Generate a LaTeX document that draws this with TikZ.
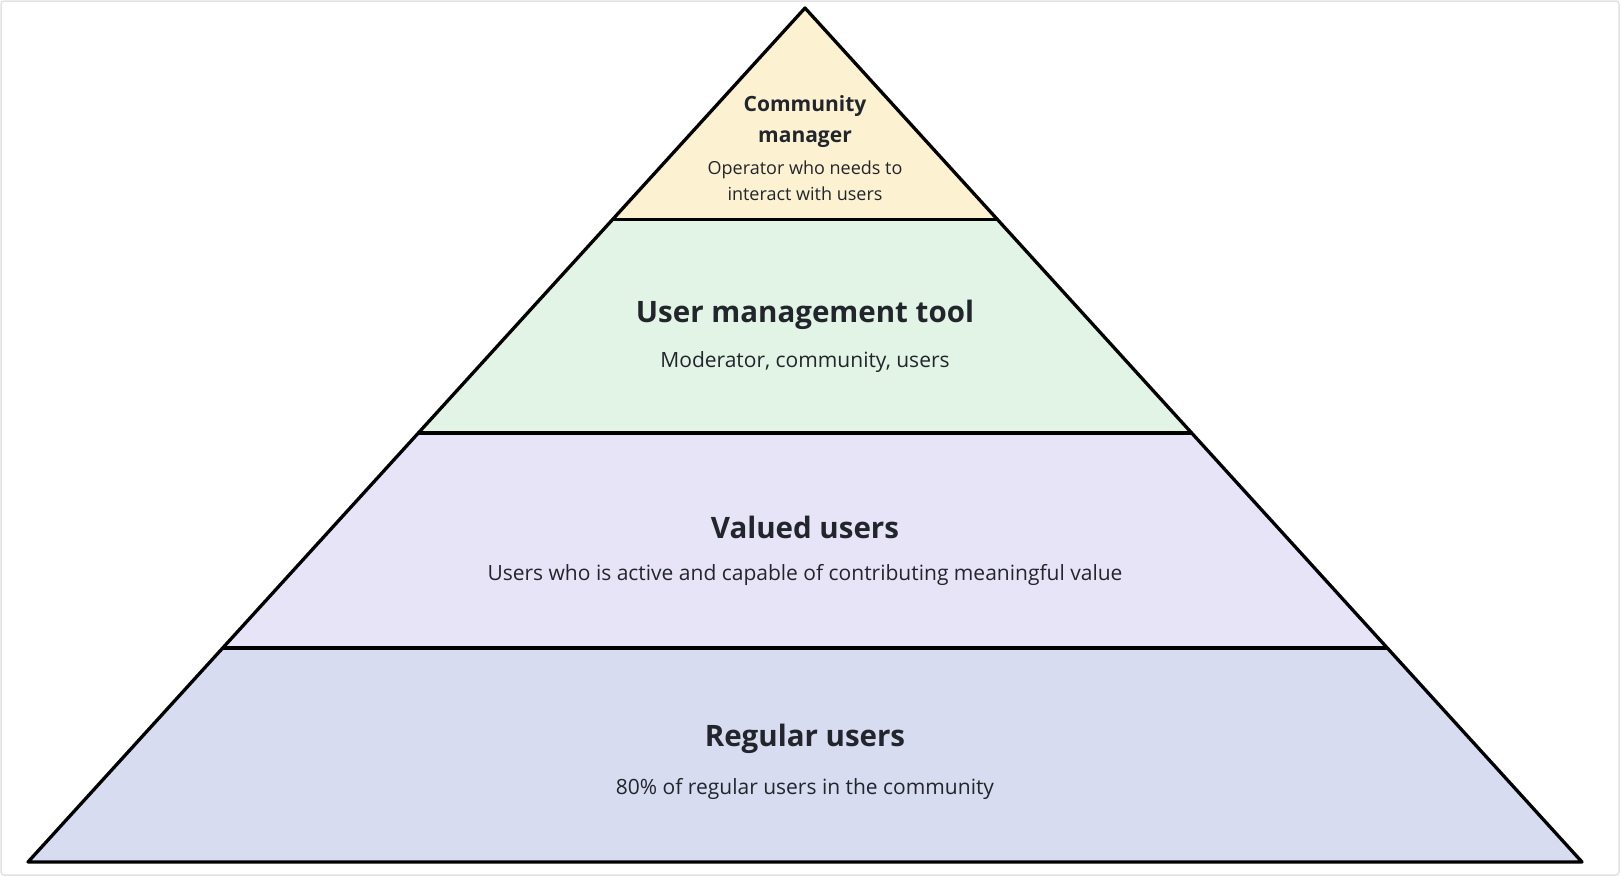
\documentclass[tikz,border=0pt]{standalone}
\usepackage{fontspec}
\setmainfont{Open Sans}
\usetikzlibrary{calc}
\definecolor{txt}{HTML}{22252B}
\definecolor{cyel}{HTML}{FCF2D2}
\definecolor{cgrn}{HTML}{E2F4E6}
\definecolor{cpur}{HTML}{E8E4F8}
\definecolor{cblu}{HTML}{D7DCF0}
\definecolor{frame}{HTML}{E2E2E2}
\tikzset{
  layer/.style={line width=3.3pt, line join=round, draw=black},
  ttl/.style={text=txt, font=\bfseries\fontsize{29.5}{35}\selectfont, align=center},
  sub/.style={text=txt, font=\fontsize{21}{26}\selectfont, align=center},
  ttlsm/.style={text=txt, font=\bfseries\fontsize{21}{31}\selectfont, align=center},
  subsm/.style={text=txt, font=\fontsize{18}{26}\selectfont, align=center},
}
\begin{document}
\begin{tikzpicture}[x=1pt,y=-1pt]
\useasboundingbox (0,0) rectangle (1620,876);
\draw[frame, line width=1.5pt, rounded corners=3pt] (1,1) rectangle (1619,875);
\coordinate (apex) at (805,8);
\coordinate (bl) at (28,862);
\coordinate (br) at (1582,862);
\coordinate (l1) at ($(apex)!0.2475!(bl)$);
\coordinate (r1) at ($(apex)!0.2475!(br)$);
\coordinate (l2) at ($(apex)!0.4975!(bl)$);
\coordinate (r2) at ($(apex)!0.4975!(br)$);
\coordinate (l3) at ($(apex)!0.7495!(bl)$);
\coordinate (r3) at ($(apex)!0.7495!(br)$);
\fill[cyel] (apex) -- (l1) -- (r1) -- cycle;
\fill[cgrn] (l1) -- (l2) -- (r2) -- (r1) -- cycle;
\fill[cpur] (l2) -- (l3) -- (r3) -- (r2) -- cycle;
\fill[cblu] (l3) -- (bl) -- (br) -- (r3) -- cycle;
\draw[layer] (apex) -- (bl) -- (br) -- cycle;
\draw[layer] (l1) -- (r1);
\draw[layer] (l2) -- (r2);
\draw[layer] (l3) -- (r3);
\node[ttlsm] (t1) at (805,122) {Community\\manager};
\node[subsm] (s1) at (805,181) {Operator who needs to\\interact with users};
\node[ttl] (t2) at (805,315) {User management tool};
\node[sub] (s2) at (805,362) {Moderator, community, users};
\node[ttl] (t3) at (805,527) {Valued users};
\node[sub] (s3) at (805,575) {Users who is active and capable of contributing meaningful value};
\node[ttl] (t4) at (805,739) {Regular users};
\node[sub] (s4) at (805,789) {80\% of regular users in the community};
\end{tikzpicture}
\end{document}
